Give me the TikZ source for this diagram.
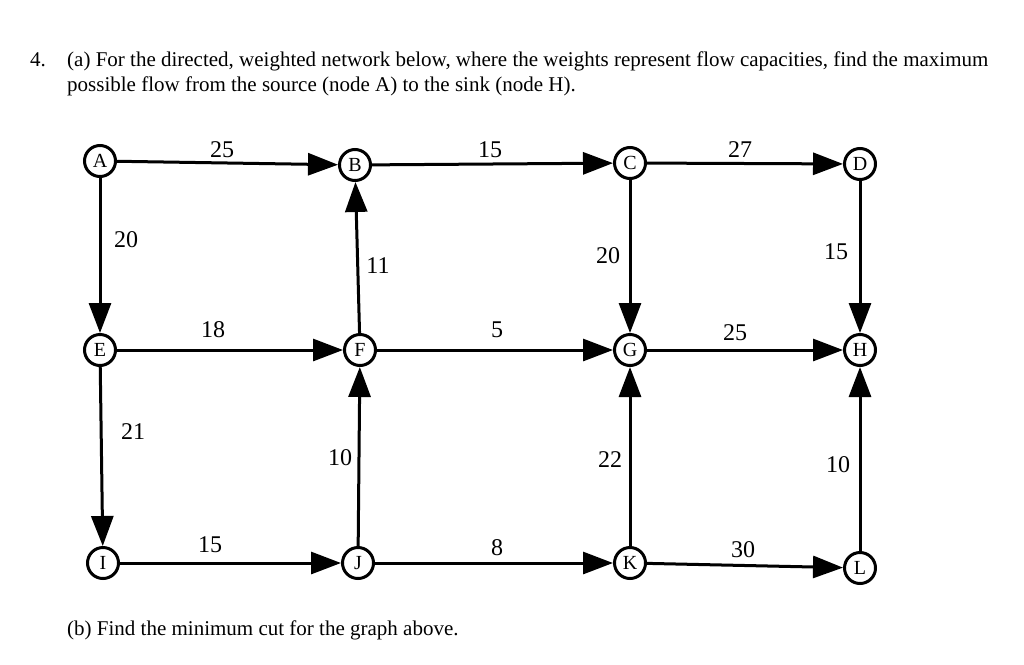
\documentclass[tikz,border=0pt]{standalone}
\usepackage{fontspec}
\setmainfont{Liberation Serif}
\usetikzlibrary{arrows.meta}
\begin{document}
\begin{tikzpicture}[x=1pt,y=-1pt,
  vtx/.style={circle,draw,line width=3pt,fill=white,minimum size=31pt,inner sep=0pt,font=\fontsize{20}{20}\selectfont},
  edg/.style={line width=3pt,-{Triangle[length=30pt,width=22pt]}},
  wl/.style={font=\fontsize{24}{24}\selectfont,inner sep=1pt},
  txt/.style={font=\fontsize{21}{25}\selectfont,anchor=base west,inner sep=0pt}]
\useasboundingbox (0,0) rectangle (1024,664);
\node[txt] (n4) at (30,66) {4.};
\node[txt] (t1) at (67,66) {(a) For the directed, weighted network below, where the weights represent flow capacities, find the maximum};
\node[txt] (t2) at (67,91) {possible flow from the source (node A) to the sink (node H).};
\node[txt] (t3) at (67,635) {(b) Find the minimum cut for the graph above.};
\node[vtx] (A) at (100,161) {A};
\node[vtx] (B) at (355,165) {B};
\node[vtx] (C) at (630,163) {C};
\node[vtx] (D) at (860,164) {D};
\node[vtx] (E) at (100,350) {E};
\node[vtx] (F) at (360,350) {F};
\node[vtx] (G) at (630,350) {G};
\node[vtx] (H) at (860,350) {H};
\node[vtx] (I) at (103,563) {I};
\node[vtx] (J) at (358,563) {J};
\node[vtx] (K) at (630,563) {K};
\node[vtx] (L) at (860,568) {L};
\draw[edg] (A) -- (B);
\draw[edg] (B) -- (C);
\draw[edg] (C) -- (D);
\draw[edg] (A) -- (E);
\draw[edg] (F) -- (B);
\draw[edg] (C) -- (G);
\draw[edg] (D) -- (H);
\draw[edg] (E) -- (F);
\draw[edg] (F) -- (G);
\draw[edg] (G) -- (H);
\draw[edg] (E) -- (I);
\draw[edg] (J) -- (F);
\draw[edg] (K) -- (G);
\draw[edg] (L) -- (H);
\draw[edg] (I) -- (J);
\draw[edg] (J) -- (K);
\draw[edg] (K) -- (L);
\node[wl] (w1) at (222,150) {25};
\node[wl] (w2) at (490,150) {15};
\node[wl] (w3) at (740,150) {27};
\node[wl] (w4) at (126,240) {20};
\node[wl] (w5) at (378,266) {11};
\node[wl] (w6) at (608,256) {20};
\node[wl] (w7) at (836,252) {15};
\node[wl] (w8) at (213,330) {18};
\node[wl] (w9) at (497,330) {5};
\node[wl] (w10) at (735,333) {25};
\node[wl] (w11) at (133,432) {21};
\node[wl] (w12) at (340,458) {10};
\node[wl] (w13) at (610,460) {22};
\node[wl] (w14) at (838,465) {10};
\node[wl] (w15) at (210,545) {15};
\node[wl] (w16) at (497,548) {8};
\node[wl] (w17) at (743,550) {30};
\end{tikzpicture}
\end{document}
